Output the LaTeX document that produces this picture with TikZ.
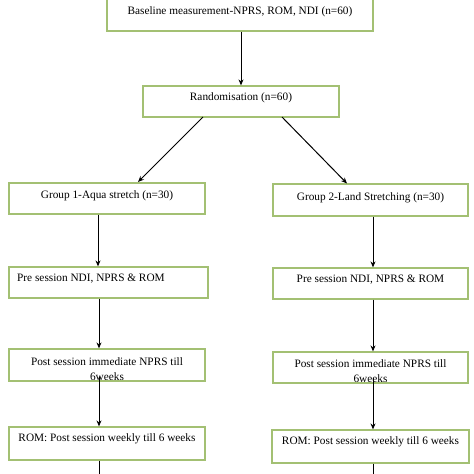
\documentclass[tikz,border=0pt]{standalone}
\usepackage{fontspec}
\setmainfont{Liberation Serif}
\usetikzlibrary{arrows.meta}
\definecolor{boxgreen}{RGB}{163,192,115}
\tikzset{
  box/.style={draw=boxgreen, line width=1.2pt, inner sep=0pt, rectangle},
  txt/.style={inner sep=0pt, font=\fontsize{11.3}{13}\selectfont},
  arr/.style={draw=black, line width=1pt, -{Stealth[length=6pt,width=5pt]}},
  ln/.style={draw=black, line width=1pt}
}
\begin{document}
\begin{tikzpicture}[x=1pt,y=-1pt]
\useasboundingbox (0,0) rectangle (474,474);
% boxes
\node[box, minimum width=266, minimum height=34] (b0) at (240,14) {};
\node[box, minimum width=196, minimum height=31] (rand) at (241,101.5) {};
\node[box, minimum width=196, minimum height=31] (g1) at (107,198.5) {};
\node[box, minimum width=195, minimum height=32] (g2) at (370.5,200) {};
\node[box, minimum width=199, minimum height=31] (pre1) at (108.5,282.5) {};
\node[box, minimum width=195, minimum height=31] (pre2) at (370.5,283.5) {};
\node[box, minimum width=196, minimum height=32] (post1) at (107,365) {};
\node[box, minimum width=195, minimum height=31] (post2) at (370.5,367.5) {};
\node[box, minimum width=196, minimum height=33] (rom1) at (107,443.5) {};
\node[box, minimum width=197, minimum height=33] (rom2) at (370.5,446.5) {};
% texts
\node[txt] (t0) at (240,12) {Baseline measurement-NPRS, ROM, NDI (n=60)};
\node[txt] (trand) at (241,98) {Randomisation (n=60)};
\node[txt] (tg1) at (107,195.5) {Group 1-Aqua stretch (n=30)};
\node[txt] (tg2) at (370.5,197.5) {Group 2-Land Stretching (n=30)};
\node[txt, anchor=west] (tpre1) at (17,278.5) {Pre session NDI, NPRS \& ROM};
\node[txt] (tpre2) at (370.5,279.5) {Pre session NDI, NPRS \& ROM};
\begin{scope}
\clip (9,349) rectangle (205,379.6);
\node[txt] (tpost1a) at (107,361.5) {Post session immediate NPRS till};
\node[txt] (tpost1b) at (107,377) {6weeks};
\end{scope}
\begin{scope}
\clip (273,352) rectangle (468,381.8);
\node[txt] (tpost2a) at (370.5,363.5) {Post session immediate NPRS till};
\node[txt] (tpost2b) at (370.5,379) {6weeks};
\end{scope}
\node[txt] (trom1) at (107,438.5) {ROM: Post session weekly till 6 weeks};
\node[txt] (trom2) at (370.5,442) {ROM: Post session weekly till 6 weeks};
% helper coordinates
\coordinate (xl) at (99,0);
\coordinate (xgl) at (98,0);
\coordinate (xr) at (373,0);
\coordinate (rl) at (203,117);
\coordinate (rr) at (282,117);
\coordinate (gl) at (138,182);
\coordinate (gr) at (347,183.5);
\coordinate (p1s) at (99,377);
\coordinate (p2s) at (373,378);
\coordinate (endl) at (99,476);
\coordinate (endr) at (373,476);
% connectors
\draw[arr] (b0.south -| rand.north) -- (rand.north);
\draw[arr] (rl) -- (gl);
\draw[arr] (rr) -- (gr);
\draw[arr] (g1.south -| xgl) -- (pre1.north -| xgl);
\draw[arr] (g2.south -| xr) -- (pre2.north -| xr);
\draw[arr] (pre1.south -| xl) -- (post1.north -| xl);
\draw[arr] (pre2.south -| xr) -- (post2.north -| xr);
\draw[arr] (p1s) -- (rom1.north -| xl);
\draw[arr] (p2s) -- (rom2.north -| xr);
\draw[ln] (rom1.south -| xl) -- (endl);
\draw[ln] (rom2.south -| xr) -- (endr);
\end{tikzpicture}
\end{document}
